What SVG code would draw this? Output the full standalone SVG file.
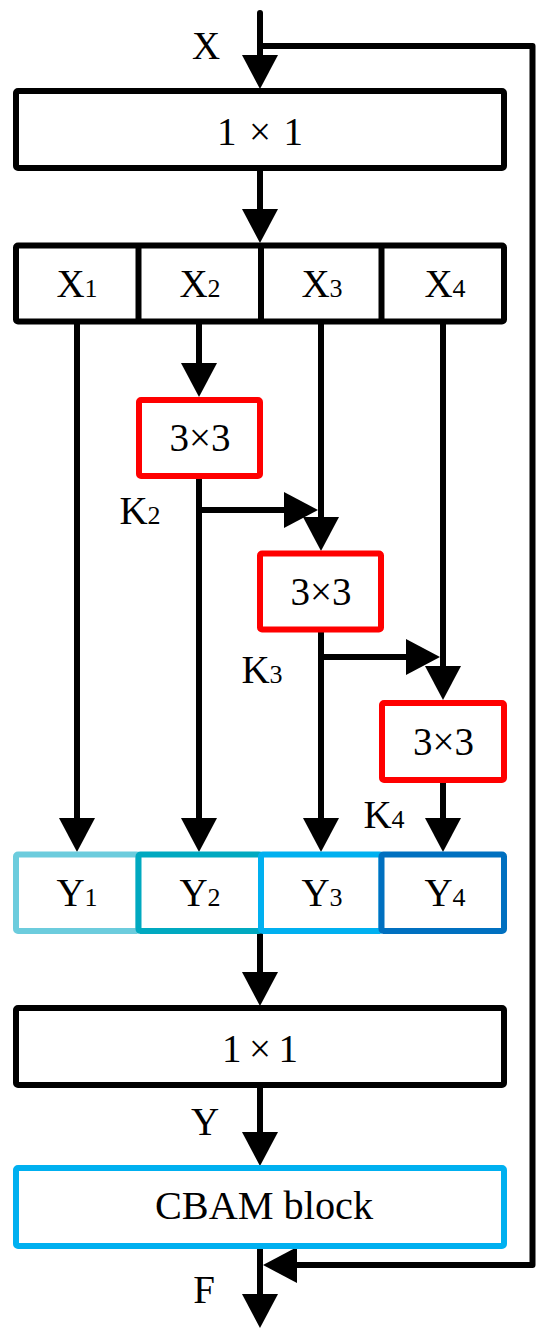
<svg xmlns="http://www.w3.org/2000/svg" xmlns:xlink="http://www.w3.org/1999/xlink" width="550" height="1342" viewBox="0 0 550 1342">
<style>
.box{fill:#fff;stroke:#000;stroke-width:6;stroke-linejoin:round}
.red{fill:#fff;stroke:#FF0000;stroke-width:6;stroke-linejoin:round}
.t{font-family:"Liberation Serif","Times New Roman",serif;font-size:39px;fill:#000;text-anchor:middle}
.s{font-size:26px}
.ln{fill:none;stroke:#000;stroke-width:6;stroke-linecap:round;stroke-linejoin:round}
.ah{fill:#000}
</style>
<defs>
<path id="ah" d="M-18,-34 L18,-34 L0,0 Z"/>
</defs>
<rect width="550" height="1342" fill="#fff"/>

<g id="connectors">
<polyline class="ln" points="260,13 260,58"/>
<use href="#ah" class="ah" transform="translate(260,89)"/>
<polyline class="ln" points="260,46 532.5,46 532.5,1265 295,1265"/>
<use href="#ah" class="ah" transform="translate(263,1265) rotate(90)"/>
<polyline class="ln" points="260,168 260,212"/>
<use href="#ah" class="ah" transform="translate(260,243)"/>
<polyline class="ln" points="77,321 77,822"/>
<use href="#ah" class="ah" transform="translate(77,852)"/>
<polyline class="ln" points="199,321 199,366"/>
<use href="#ah" class="ah" transform="translate(199,397)"/>
<polyline class="ln" points="199,476 199,822"/>
<use href="#ah" class="ah" transform="translate(199,852)"/>
<polyline class="ln" points="199,510 288,510"/>
<use href="#ah" class="ah" transform="translate(318,510) rotate(-90)"/>
<polyline class="ln" points="321,321 321,520"/>
<use href="#ah" class="ah" transform="translate(321,551)"/>
<polyline class="ln" points="321,630 321,822"/>
<use href="#ah" class="ah" transform="translate(321,852)"/>
<polyline class="ln" points="321,657 410,657"/>
<use href="#ah" class="ah" transform="translate(440,657) rotate(-90)"/>
<polyline class="ln" points="443,321 443,670"/>
<use href="#ah" class="ah" transform="translate(443,700)"/>
<polyline class="ln" points="443,780 443,822"/>
<use href="#ah" class="ah" transform="translate(443,852)"/>
<polyline class="ln" points="260,931 260,975"/>
<use href="#ah" class="ah" transform="translate(260,1006)"/>
<polyline class="ln" points="260,1085 260,1135"/>
<use href="#ah" class="ah" transform="translate(260,1166)"/>
<polyline class="ln" points="260,1246 260,1297"/>
<use href="#ah" class="ah" transform="translate(260,1328)"/>
</g>

<g id="labels">
<text class="t" x="206" y="59">X</text>
<text class="t" x="140" y="524">K<tspan class="s">2</tspan></text>
<text class="t" x="262" y="683">K<tspan class="s">3</tspan></text>
<text class="t" x="384" y="828">K<tspan class="s">4</tspan></text>
<text class="t" x="205" y="1135">Y</text>
<text class="t" x="204" y="1303">F</text>
</g>

<g id="conv1">
<rect class="box" x="16" y="91" width="488" height="77" rx="2"/>
<text class="t" x="260" y="145" textLength="86" lengthAdjust="spacing">1 × 1</text>
</g>

<g id="xsplit">
<rect class="box" x="16" y="245.5" width="488" height="76" rx="2"/>
<line x1="138.5" y1="245.5" x2="138.5" y2="321.5" stroke="#000" stroke-width="6"/>
<line x1="261" y1="245.5" x2="261" y2="321.5" stroke="#000" stroke-width="6"/>
<line x1="381.5" y1="245.5" x2="381.5" y2="321.5" stroke="#000" stroke-width="6"/>
<text class="t" x="77" y="297">X<tspan class="s">1</tspan></text>
<text class="t" x="200" y="297">X<tspan class="s">2</tspan></text>
<text class="t" x="322" y="297">X<tspan class="s">3</tspan></text>
<text class="t" x="445" y="297">X<tspan class="s">4</tspan></text>
</g>

<g id="k2">
<rect class="red" x="139" y="400" width="121" height="76" rx="2"/>
<text class="t" x="200" y="451">3×3</text>
</g>
<g id="k3">
<rect class="red" x="260" y="553.5" width="121" height="76" rx="2"/>
<text class="t" x="321" y="605">3×3</text>
</g>
<g id="k4">
<rect class="red" x="382" y="703" width="122" height="77" rx="2"/>
<text class="t" x="443.5" y="755">3×3</text>
</g>

<g id="ysplit">
<rect x="16" y="854.5" width="122.5" height="76.5" rx="2" fill="#fff" stroke="#6CCCDD" stroke-width="6"/>
<rect x="138.5" y="854.5" width="122.5" height="76.5" rx="2" fill="#fff" stroke="#00A9C0" stroke-width="6"/>
<rect x="261" y="854.5" width="120.5" height="76.5" rx="2" fill="#fff" stroke="#00B0F0" stroke-width="6"/>
<rect x="381.5" y="854.5" width="122.5" height="76.5" rx="2" fill="#fff" stroke="#0070C0" stroke-width="6"/>
<text class="t" x="77" y="906">Y<tspan class="s">1</tspan></text>
<text class="t" x="200" y="906">Y<tspan class="s">2</tspan></text>
<text class="t" x="322" y="906">Y<tspan class="s">3</tspan></text>
<text class="t" x="445" y="906">Y<tspan class="s">4</tspan></text>
</g>

<g id="conv2">
<rect class="box" x="16" y="1008" width="488" height="77" rx="2"/>
<text class="t" x="260" y="1062" textLength="76" lengthAdjust="spacing">1 × 1</text>
</g>

<g id="cbam">
<rect x="16" y="1168" width="488" height="78" rx="2" fill="#fff" stroke="#00B0F0" stroke-width="6"/>
<text class="t" x="264" y="1219" textLength="218" lengthAdjust="spacingAndGlyphs">CBAM block</text>
</g>
</svg>
